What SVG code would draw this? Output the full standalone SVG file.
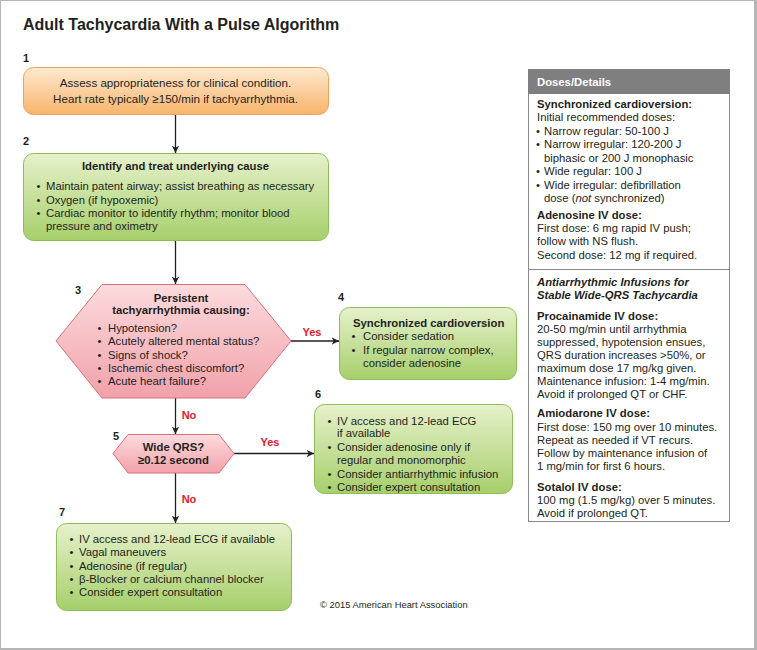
<svg xmlns="http://www.w3.org/2000/svg" width="757" height="650" viewBox="0 0 757 650">
<defs>
<linearGradient id="gOr" x1="0" y1="0" x2="0" y2="1"><stop offset="0" stop-color="#fee9d0"/><stop offset="1" stop-color="#f8b56c"/></linearGradient>
<linearGradient id="gGr" x1="0" y1="0" x2="0" y2="1"><stop offset="0" stop-color="#e6f1cb"/><stop offset="1" stop-color="#a6cf6b"/></linearGradient>
<linearGradient id="gPk" x1="0" y1="0" x2="0" y2="1"><stop offset="0" stop-color="#fddbdd"/><stop offset="1" stop-color="#f1a1aa"/></linearGradient>
<marker id="arr" viewBox="0 0 10 10" refX="10" refY="5" markerWidth="7.5" markerHeight="7.5" markerUnits="userSpaceOnUse" orient="auto"><path d="M0,0 L10,5 L0,10 L3,5 z" fill="#231f20"/></marker>
</defs>
<style>
text{font-family:"Liberation Sans",Arial,sans-serif;fill:#231f20;font-size:11.3px}
.b{font-weight:bold}
.num{font-weight:bold;font-size:11px}
.red{fill:#e3202b;font-weight:bold;font-size:11px}
.mid{text-anchor:middle}
.or{fill:url(#gOr);stroke:#eda256;stroke-width:1}
.gr{fill:url(#gGr);stroke:#8fbd55;stroke-width:1}
.pk{fill:url(#gPk);stroke:#d8707b;stroke-width:1}
.ln{stroke:#231f20;stroke-width:1.3;fill:none;marker-end:url(#arr)}
</style>
<rect x="0" y="0" width="757" height="650" fill="#b5b5b5"/>
<rect x="1" y="1" width="753" height="647" fill="#ffffff"/>
<text x="23" y="30" class="b" style="font-size:16px">Adult Tachycardia With a Pulse Algorithm</text>

<g id="connectors">
<line class="ln" x1="175.5" y1="114" x2="175.5" y2="153"/>
<line class="ln" x1="175.5" y1="240" x2="175.5" y2="284"/>
<line class="ln" x1="291" y1="341" x2="339" y2="341"/>
<line class="ln" x1="175.5" y1="398" x2="175.5" y2="434"/>
<line class="ln" x1="234" y1="453.5" x2="314" y2="453.5"/>
<line class="ln" x1="175.5" y1="473" x2="175.5" y2="523"/>
<text x="312" y="336" class="red mid">Yes</text>
<text x="189" y="419" class="red mid">No</text>
<text x="270" y="446" class="red mid">Yes</text>
<text x="189" y="503" class="red mid">No</text>
</g>

<g id="node1">
<text x="23" y="62" class="num">1</text>
<rect x="23.5" y="67.5" width="305" height="47" rx="10" class="or"/>
<text x="175.5" y="87" class="mid" style="font-size:11.6px">Assess appropriateness for clinical condition.</text>
<text x="175.5" y="102.5" class="mid" style="font-size:11.6px">Heart rate typically ≥150/min if tachyarrhythmia.</text>
</g>

<g id="node2">
<text x="23" y="145" class="num">2</text>
<rect x="23.5" y="153.5" width="305" height="87" rx="10" class="gr"/>
<text x="175.5" y="169.5" class="b mid">Identify and treat underlying cause</text>
<text x="36.5" y="190">•</text><text x="46" y="190">Maintain patent airway; assist breathing as necessary</text>
<text x="36.5" y="203.5">•</text><text x="46" y="203.5">Oxygen (if hypoxemic)</text>
<text x="36.5" y="216.5">•</text><text x="46" y="216.5">Cardiac monitor to identify rhythm; monitor blood</text>
<text x="46" y="230">pressure and oximetry</text>
</g>

<g id="node3">
<text x="75" y="294" class="num">3</text>
<polygon points="102,284.5 245,284.5 291,341 245,398 102,398 56,341" class="pk"/>
<text x="181" y="301.5" class="b mid">Persistent</text>
<text x="181" y="314" class="b mid">tachyarrhythmia causing:</text>
<text x="97.5" y="332">•</text><text x="108" y="332">Hypotension?</text>
<text x="97.5" y="345">•</text><text x="108" y="345">Acutely altered mental status?</text>
<text x="97.5" y="358.5">•</text><text x="108" y="358.5">Signs of shock?</text>
<text x="97.5" y="372">•</text><text x="108" y="372">Ischemic chest discomfort?</text>
<text x="97.5" y="385">•</text><text x="108" y="385">Acute heart failure?</text>
</g>

<g id="node4">
<text x="338" y="301" class="num">4</text>
<rect x="339.5" y="307.5" width="177" height="72" rx="10" class="gr"/>
<text x="353" y="327" class="b">Synchronized cardioversion</text>
<text x="351.5" y="340">•</text><text x="363" y="340">Consider sedation</text>
<text x="351.5" y="354">•</text><text x="363" y="354">If regular narrow complex,</text>
<text x="363" y="367">consider adenosine</text>
</g>

<g id="node5">
<text x="113" y="440" class="num">5</text>
<polygon points="128,434.5 219,434.5 234,453.5 219,473 128,473 113,453.5" class="pk"/>
<text x="173.5" y="451" class="b mid">Wide QRS?</text>
<text x="173.5" y="464" class="b mid">≥0.12 second</text>
</g>

<g id="node6">
<text x="315" y="398" class="num">6</text>
<rect x="314.5" y="404.5" width="198" height="89" rx="10" class="gr"/>
<text x="327.5" y="424.5">•</text><text x="337" y="424.5">IV access and 12-lead ECG</text>
<text x="337" y="437">if available</text>
<text x="327.5" y="451">•</text><text x="337" y="451">Consider adenosine only if</text>
<text x="337" y="464">regular and monomorphic</text>
<text x="327.5" y="477.5">•</text><text x="337" y="477.5">Consider antiarrhythmic infusion</text>
<text x="327.5" y="491">•</text><text x="337" y="491">Consider expert consultation</text>
</g>

<g id="node7">
<text x="59" y="516" class="num">7</text>
<rect x="56.5" y="523.5" width="235" height="87" rx="10" class="gr"/>
<text x="69.5" y="543">•</text><text x="79" y="543">IV access and 12-lead ECG if available</text>
<text x="69.5" y="556">•</text><text x="79" y="556">Vagal maneuvers</text>
<text x="69.5" y="569.5">•</text><text x="79" y="569.5">Adenosine (if regular)</text>
<text x="69.5" y="583">•</text><text x="79" y="583">β-Blocker or calcium channel blocker</text>
<text x="69.5" y="596">•</text><text x="79" y="596">Consider expert consultation</text>
</g>

<text x="320" y="608" style="font-size:9.4px">© 2015 American Heart Association</text>

<g id="panel">
<rect x="528.5" y="69.5" width="201" height="452" fill="#ffffff" stroke="#8a8a8a" stroke-width="1"/>
<rect x="528.5" y="69.5" width="201" height="24" fill="#7f7f7f" stroke="#7f7f7f" stroke-width="1"/>
<line x1="528.5" y1="269.5" x2="729.5" y2="269.5" stroke="#8a8a8a" stroke-width="1"/>
<text x="537" y="86" class="b" style="fill:#ffffff">Doses/Details</text>
<text x="537" y="107.5" class="b">Synchronized cardioversion:</text>
<text x="537" y="121">Initial recommended doses:</text>
<text x="536" y="134.5">•</text><text x="544" y="134.5">Narrow regular: 50-100 J</text>
<text x="536" y="148">•</text><text x="544" y="148">Narrow irregular: 120-200 J</text>
<text x="544" y="161.5">biphasic or 200 J monophasic</text>
<text x="536" y="175">•</text><text x="544" y="175">Wide regular: 100 J</text>
<text x="536" y="188.5">•</text><text x="544" y="188.5">Wide irregular: defibrillation</text>
<text x="544" y="202">dose (<tspan font-style="italic">not</tspan> synchronized)</text>
<text x="537" y="218.5" class="b">Adenosine IV dose:</text>
<text x="537" y="232">First dose: 6 mg rapid IV push;</text>
<text x="537" y="245">follow with NS flush.</text>
<text x="537" y="258.5">Second dose: 12 mg if required.</text>
<text x="537" y="285.5" class="b" font-style="italic">Antiarrhythmic Infusions for</text>
<text x="537" y="299" class="b" font-style="italic">Stable Wide-QRS Tachycardia</text>
<text x="537" y="319.5" class="b">Procainamide IV dose:</text>
<text x="537" y="332.5">20-50 mg/min until arrhythmia</text>
<text x="537" y="345.5">suppressed, hypotension ensues,</text>
<text x="537" y="358.5">QRS duration increases &gt;50%, or</text>
<text x="537" y="371.5">maximum dose 17 mg/kg given.</text>
<text x="537" y="384.5">Maintenance infusion: 1-4 mg/min.</text>
<text x="537" y="397.5">Avoid if prolonged QT or CHF.</text>
<text x="537" y="417" class="b">Amiodarone IV dose:</text>
<text x="537" y="430.5">First dose: 150 mg over 10 minutes.</text>
<text x="537" y="444">Repeat as needed if VT recurs.</text>
<text x="537" y="457">Follow by maintenance infusion of</text>
<text x="537" y="470">1 mg/min for first 6 hours.</text>
<text x="537" y="490.5" class="b">Sotalol IV dose:</text>
<text x="537" y="503.5">100 mg (1.5 mg/kg) over 5 minutes.</text>
<text x="537" y="516.5">Avoid if prolonged QT.</text>
</g>
</svg>
